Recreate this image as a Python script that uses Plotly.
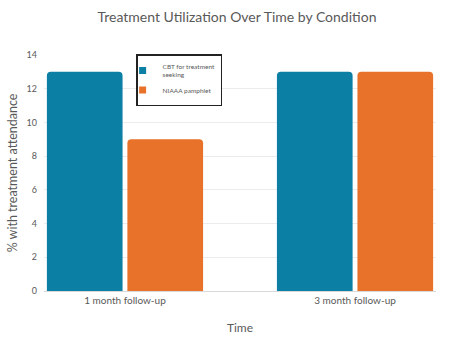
import plotly.graph_objects as go

# Follow-up time points and percent of participants attending treatment
timepoints = ["1 month follow-up", "3 month follow-up"]
cbt_values = [13, 13]
niaaa_values = [9, 13]
series_names = ["CBT for treatment<br>seeking", "NIAAA pamphlet"]
y_ticks = [0, 2, 4, 6, 8, 10, 12, 14]

BLUE = "#0c7fa5"
ORANGE = "#e8722a"
TEXT = "#595959"
FONT = "Lato, 'Open Sans', sans-serif"

fig = go.Figure()
for name, vals, color in [(series_names[0], cbt_values, BLUE),
                          (series_names[1], niaaa_values, ORANGE)]:
    fig.add_trace(go.Bar(name=name, x=timepoints, y=vals, showlegend=False,
                         marker=dict(color=color, cornerradius=4, line=dict(width=0))))
    # small square swatch for the legend
    fig.add_trace(go.Scatter(name=name, x=[None], y=[None], mode="markers",
                             marker=dict(symbol="square", size=7, color=color)))

fig.update_layout(
    width=474, height=346,
    margin=dict(l=44, r=38, t=55, b=55),
    paper_bgcolor="white", plot_bgcolor="white",
    barmode="group", bargap=0.3, bargroupgap=0.06,
    font=dict(family=FONT, color=TEXT),
    title=dict(text="Treatment Utilization Over Time by Condition",
               x=0.5, xanchor="center", y=0.95, yanchor="middle",
               font=dict(size=14, color=TEXT, family=FONT)),
    xaxis=dict(range=[-0.352, 1.352], showgrid=False, showline=True,
               linecolor="#d9d9d9", linewidth=1, ticks="",
               tickfont=dict(size=10, color=TEXT),
               title=dict(text="Time", font=dict(size=12, color=TEXT), standoff=18)),
    yaxis=dict(range=[0, 14], tickvals=y_ticks, showgrid=True,
               gridcolor="#ececec", gridwidth=1, zeroline=False,
               tickfont=dict(size=9, color=TEXT), ticklabelstandoff=6,
               title=dict(text="% with treatment attendance",
                          font=dict(size=12.5, color=TEXT), standoff=6)),
    legend=dict(x=0.235, y=1.004, xanchor="left", yanchor="top",
                bgcolor="white", bordercolor="#222222", borderwidth=1.5,
                font=dict(size=6.5, color=TEXT), itemwidth=30,
                itemsizing="trace", tracegroupgap=0, traceorder="normal",
                indentation=-15),
)

fig.write_html("out.html")
